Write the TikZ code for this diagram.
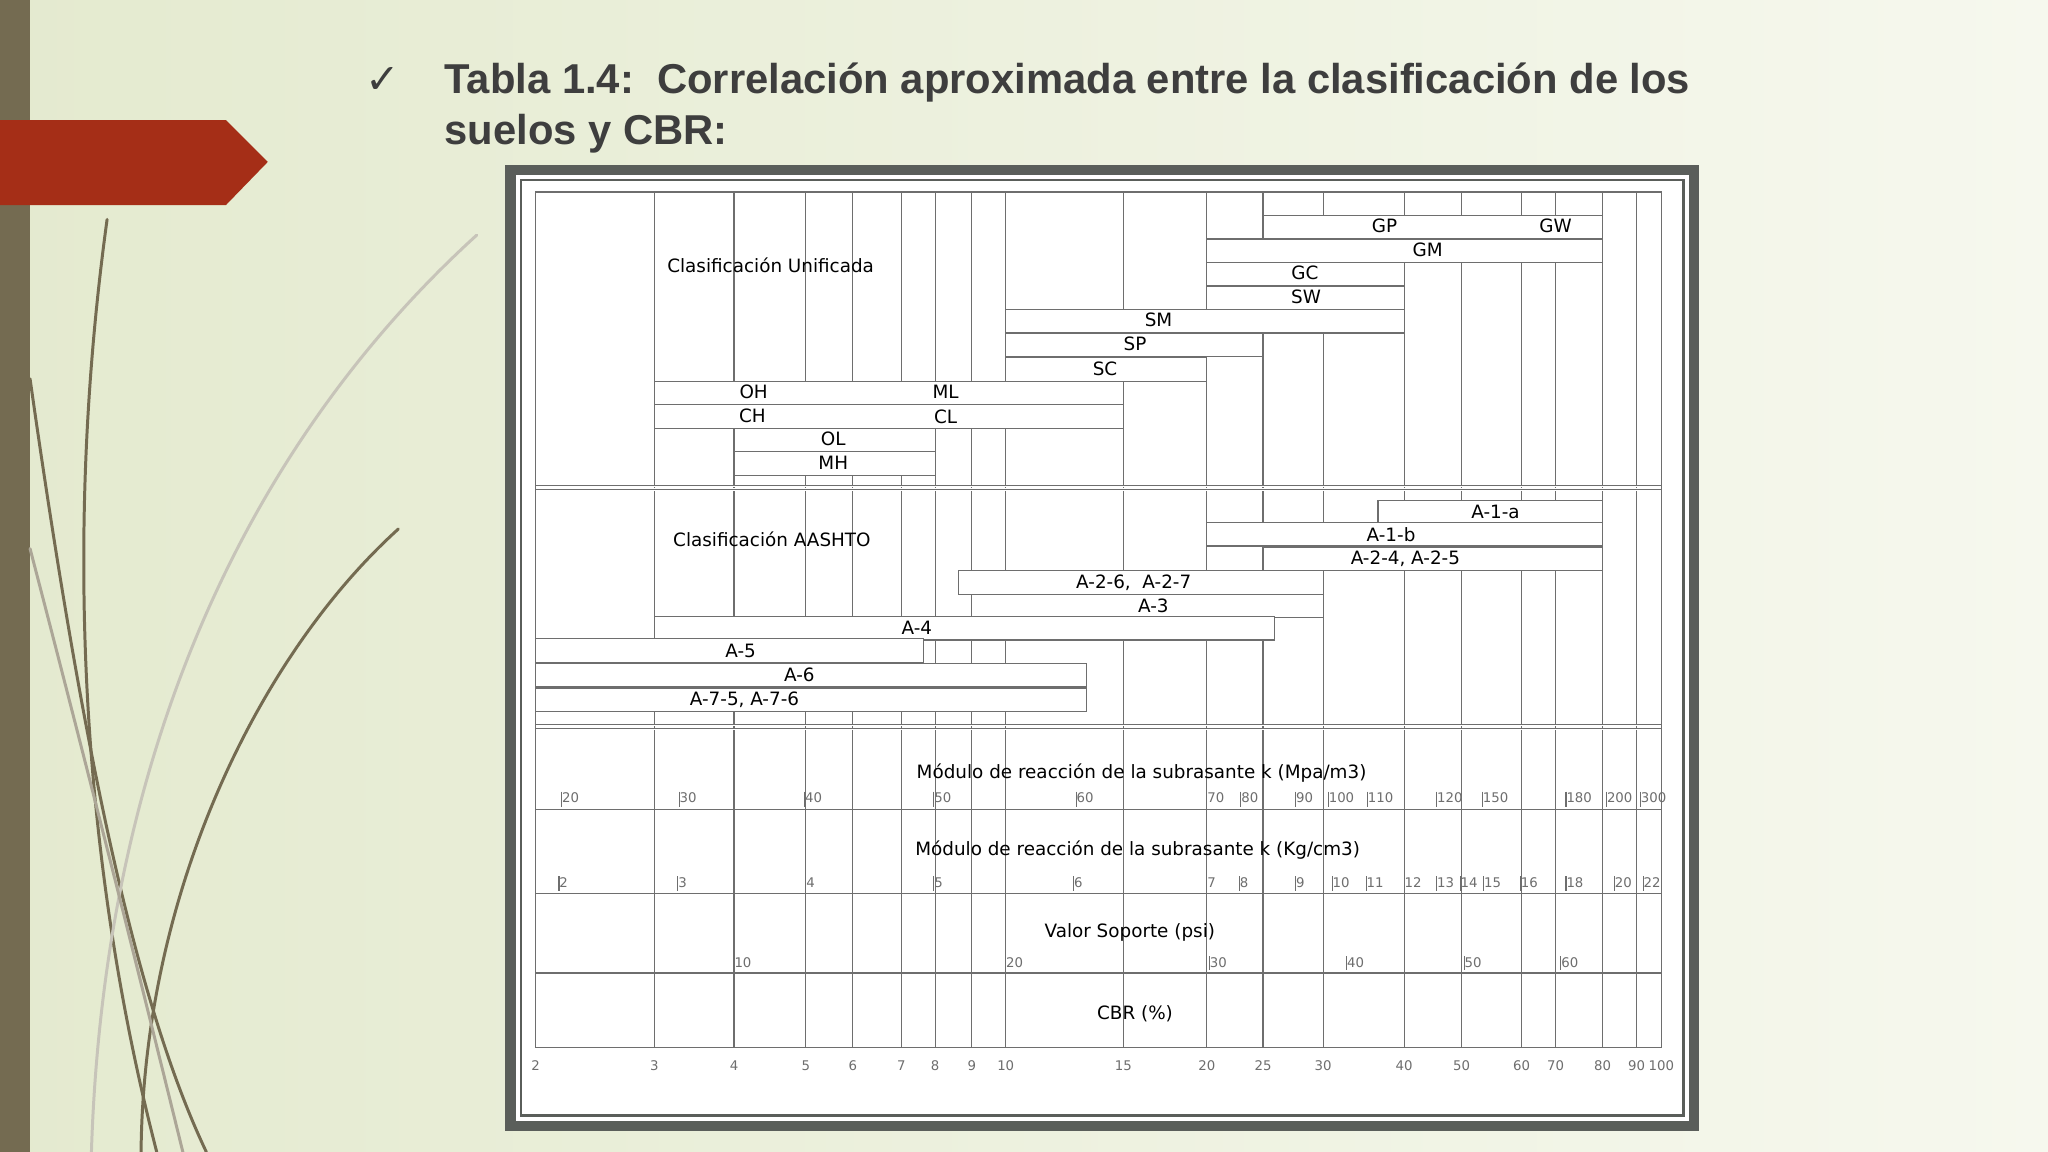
\documentclass[tikz,border=0pt]{standalone}
\usepackage{fontspec}
\setmainfont{Liberation Sans}
\newfontfamily\tabfont{DejaVu Sans}
\usepackage{xcolor}
\usetikzlibrary{calc}
\definecolor{bgA}{HTML}{E4EACF}
\definecolor{bgB}{HTML}{F6F8EE}
\definecolor{olive}{HTML}{746B51}
\definecolor{rust}{HTML}{A52E17}
\definecolor{frame}{HTML}{5A5E5A}
\definecolor{ink}{HTML}{3E3E3E}
\definecolor{grid}{HTML}{6E6E6E}
\tikzset{
  gridln/.style={draw=grid, line width=0.5pt},
  bar/.style={draw=grid, fill=white, line width=0.5pt},
  lab/.style={text=black, font=\tabfont\fontsize{8}{9}\selectfont, inner sep=0pt},
  tick/.style={text=grid, font=\tabfont\fontsize{5.8}{6}\selectfont, inner sep=0pt, anchor=south west},
  curve/.style={draw=olive, line width=1.3pt, line cap=round}
}
\begin{document}
\begin{tikzpicture}[x=0.02cm, y=-0.02cm]
  \useasboundingbox (0,0) rectangle (1568,882);
  \shade[left color=bgA, right color=bgB] (0,0) rectangle (1568,882);
  % decoration on the left
  \fill[olive] (0,0) rectangle (23,882);
  \fill[rust] (0,92) -- (173,92) -- (205,124) -- (173,157) -- (0,157) -- cycle;
  \draw[curve] (82,168) .. controls (50,400) and (60,650) .. (120,882);
  \draw[curve] (23,290) .. controls (60,550) and (100,760) .. (158,882);
  \draw[curve] (305,405) .. controls (200,500) and (110,680) .. (108,882);
  \draw[curve, draw=olive!40] (365,180) .. controls (200,330) and (80,560) .. (70,882);
  \draw[curve, draw=olive!60] (23,420) .. controls (70,600) and (110,760) .. (140,882);
  % title
  \node[text=ink, font=\fontsize{18}{18}\selectfont] (chk) at (293,62) {\tabfont ✓};
  \node[text=ink, font=\bfseries\fontsize{18.2}{22}\selectfont, anchor=north west, align=left, inner sep=0pt]
    (title) at (340,48) {Tabla 1.4:\ \ Correlación aproximada entre la clasificación de los\\suelos y CBR:};
  % frame
  \fill[frame] (387,126) rectangle (1301,866);
  \fill[white] (395,134) rectangle (1293,858);
  \draw[frame, line width=1pt] (399,138) rectangle (1289,854);
  \draw[gridln] (410,147) rectangle (1272,802);
  % vertical grid at CBR values
  \foreach \x/\v in {410/2,501/3,562/4,617/5,653/6,690/7,716/8,744/9,770/10,860/15,924/20,967/25,1013/30,1075/40,1119/50,1165/60,1191/70,1227/80,1253/90,1272/100}{
    \draw[gridln] (\x,147) -- (\x,802);
    \node[tick, anchor=north] (c\v) at (\x,812) {\v};
  }
  % horizontal separators
  \foreach \y in {372,375,555,558}{ \fill[white] (410,\y-1) rectangle (1272,\y+1); \draw[gridln] (410,\y) -- (1272,\y); }
  \foreach \y in {620,684,745}{ \draw[gridln] (410,\y) -- (1272,\y); }
  % unified classification
  \node[lab] (uni) at (590,203) {Clasificación Unificada};
  \foreach \a/\b/\t/\c/\l in {967/1227/165/1060/GP,924/1227/183/1093/GM,924/1075/201/999/GC,924/1075/219/1000/SW,770/1075/237/887/SM,770/967/255/869/SP,770/924/274/846/SC,501/860/292/577/OH,501/860/310/576/CH,562/716/328/638/OL,562/716/346/638/MH}{
    \draw[bar] (\a,\t) rectangle (\b,\t+18);
    \node[lab] (u\l) at (\c,\t+8) {\l};
  }
  \node[lab] (uGW) at (1191,173) {GW};
  \node[lab] (uML) at (724,300) {ML};
  \node[lab] (uCL) at (724,319) {CL};
  % AASHTO classification
  \node[lab] (aas) at (591,413) {Clasificación AASHTO};
  \foreach \a/\b/\t/\c/\l in {1055/1227/383/1145/A-1-a,924/1227/400/1065/A-1-b,967/1227/419/1076/{A-2-4, A-2-5},734/1013/437/868/{A-2-6,\ \ A-2-7},744/1013/455/883/A-3,501/976/472/702/A-4,410/707/489/567/A-5,410/832/508/612/A-6,410/832/527/570/{A-7-5, A-7-6}}{
    \draw[bar] (\a,\t) rectangle (\b,\t+18);
    \node[lab] at (\c,\t+9) {\l};
  }
  % scales
  \node[lab] (mpa) at (874,592) {Módulo de reacción de la subrasante k (Mpa/m3)};
  \foreach \x/\v in {430/20,520/30,616/40,715/50,824/60,924/70,950/80,992/90,1017/100,1047/110,1100/120,1135/150,1199/180,1230/200,1256/300}{
    \draw[gridln] (\x,606) -- (\x,618);
    \node[tick] at (\x,615) {\v};
  }
  \node[lab] (kg) at (871,651) {Módulo de reacción de la subrasante k (Kg/cm3)};
  \foreach \x/\v in {428/2,519/3,617/4,715/5,822/6,924/7,949/8,992/9,1020/10,1046/11,1075/12,1100/13,1118/14,1136/15,1164/16,1199/18,1236/20,1258/22}{
    \draw[gridln] (\x,671) -- (\x,682);
    \node[tick] at (\x,680) {\v};
  }
  \node[lab] (psi) at (865,714) {Valor Soporte (psi)};
  \foreach \x/\v in {562/10,770/20,926/30,1031/40,1121/50,1195/60}{
    \draw[gridln] (\x,732) -- (\x,743);
    \node[tick] at (\x,741) {\v};
  }
  \node[lab] (cbr) at (869,776) {CBR (\%)};
\end{tikzpicture}
\end{document}
